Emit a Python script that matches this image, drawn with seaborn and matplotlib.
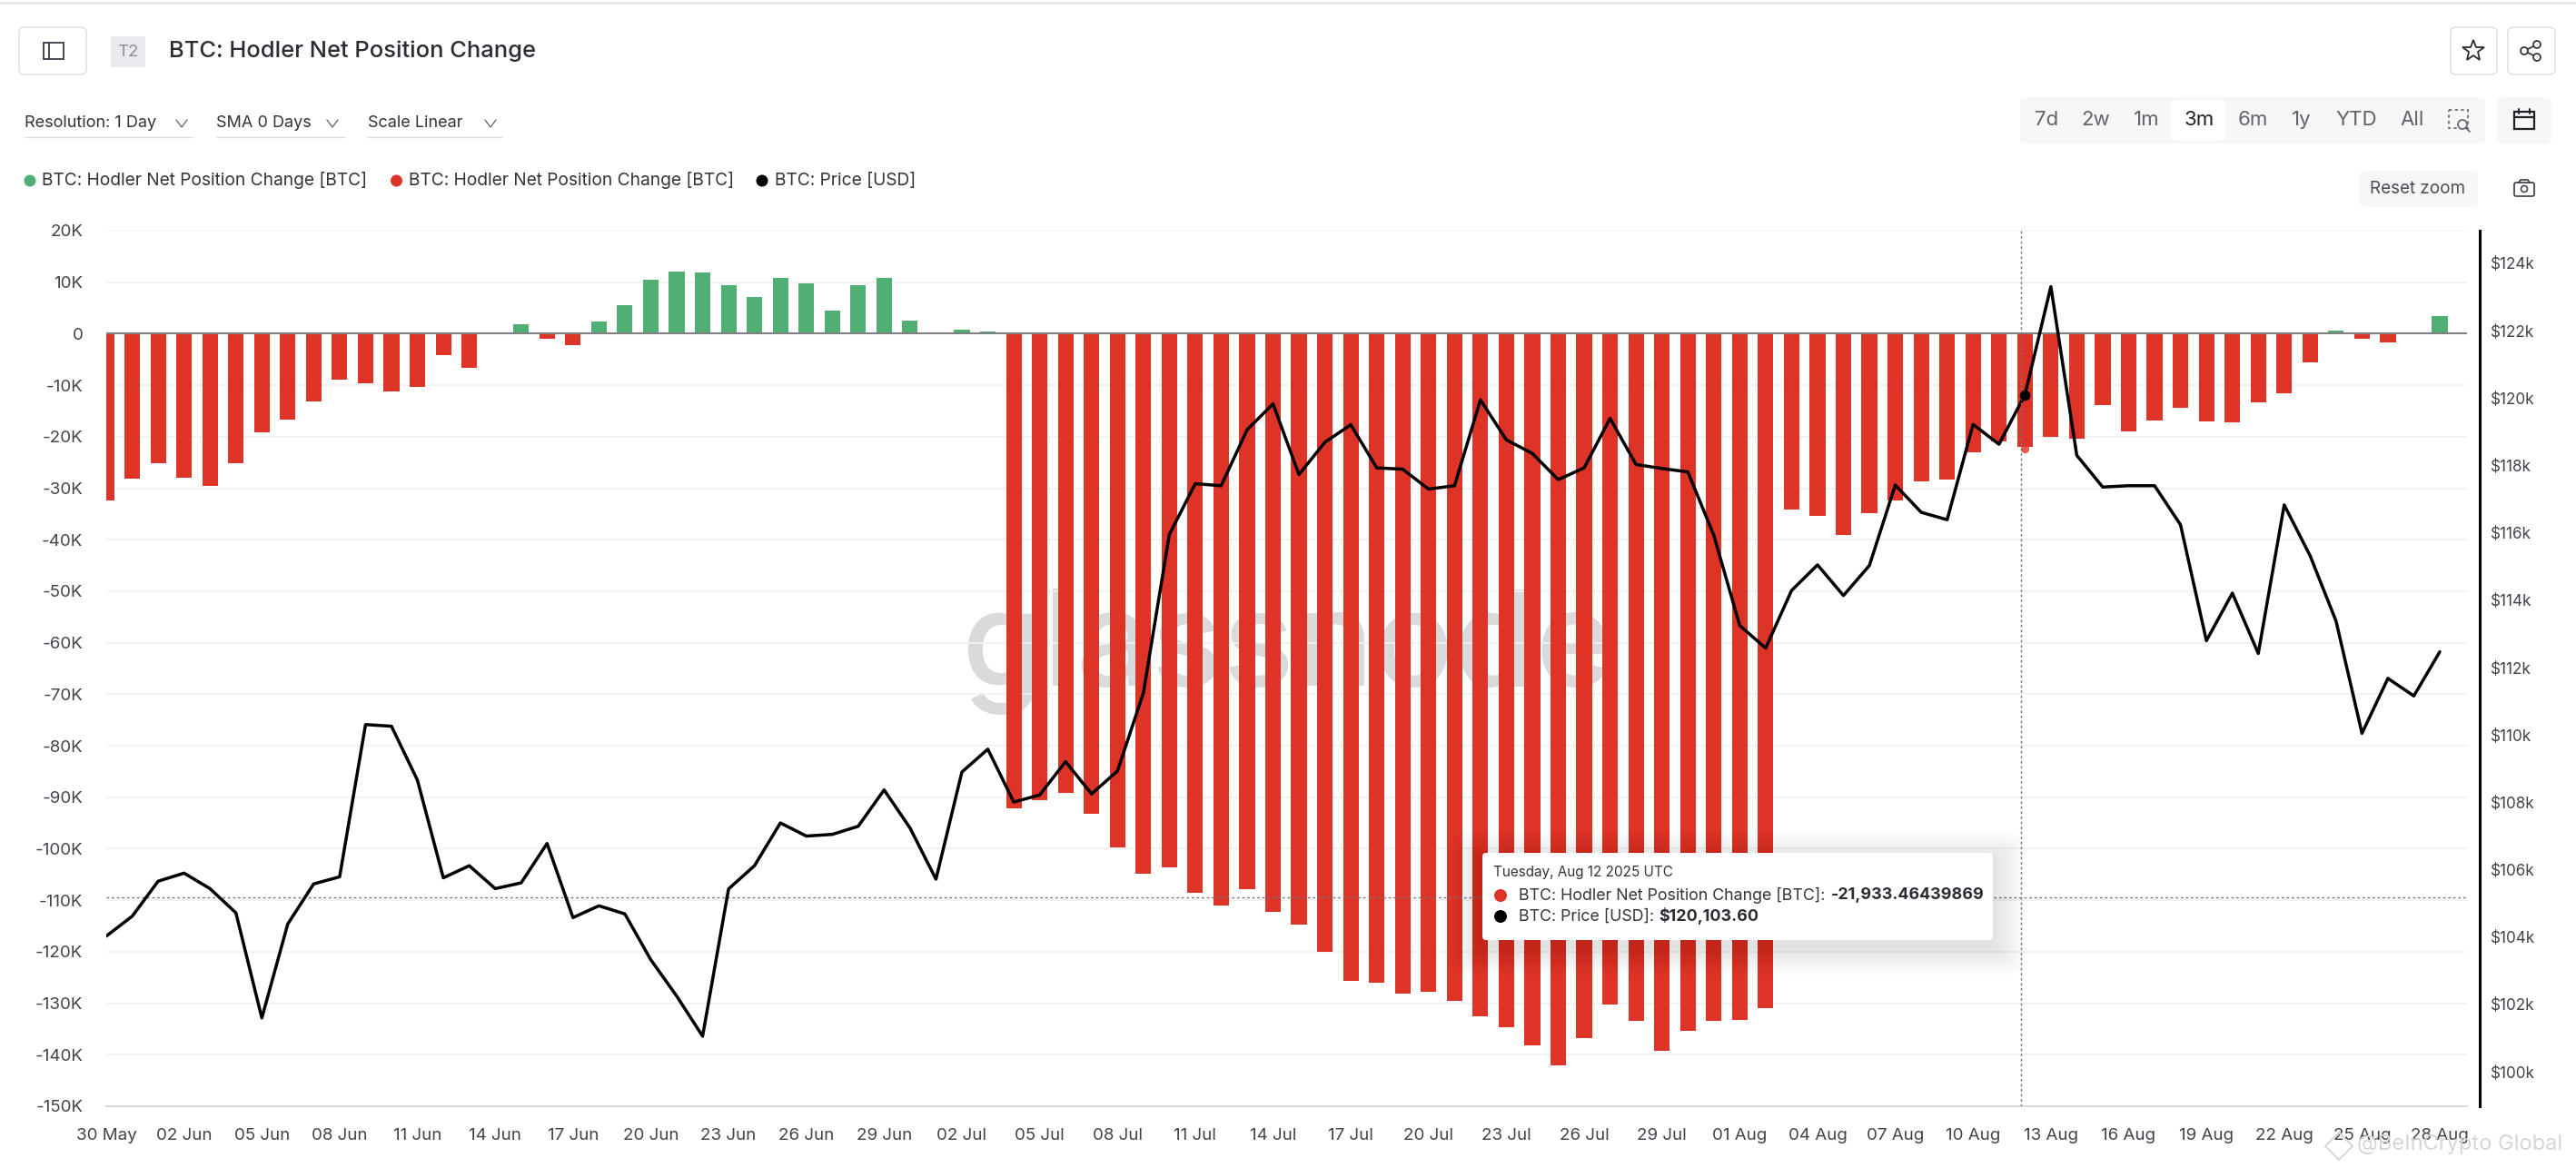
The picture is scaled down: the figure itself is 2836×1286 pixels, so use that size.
import numpy as np
import pandas as pd
import matplotlib
matplotlib.use("Agg")
import matplotlib.pyplot as plt
from matplotlib.patches import FancyBboxPatch, Circle, Rectangle
import seaborn as sns

# ---- data (thousand BTC / thousand USD per day starting 30 May 2025) ----
net_change_k = [
    -32.3, -28.2, -25.2, -27.9, -29.6, -25.2, -19.1, -16.6, -13.2, -9.0,
    -9.7, -11.3, -10.4, -4.1, -6.7, 0.1, 1.8, -0.9, -2.3, 2.3,
    5.6, 10.4, 12.0, 11.8, 9.4, 7.2, 10.8, 9.7, 4.4, 9.4,
    10.8, 2.6, 0.05, 0.7, 0.5, -92.1, -90.6, -89.2, -93.3, -99.8,
    -104.8, -103.7, -108.6, -111.1, -107.9, -112.2, -114.8, -120.1, -125.7, -126.1,
    -128.2, -127.7, -129.5, -132.5, -134.7, -138.1, -142.0, -136.7, -130.3, -133.5,
    -139.2, -135.3, -133.5, -133.2, -131.0, -34.2, -35.3, -39.0, -34.9, -32.3,
    -28.6, -28.3, -23.0, -20.9, -21.93, -20.0, -20.3, -13.9, -18.9, -16.8,
    -14.3, -17.0, -17.2, -13.3, -11.5, -5.6, 0.6, -1.0, -1.7, 0.05,
    3.4,
]
price_k = [
    104.03, 104.62, 105.66, 105.90, 105.44, 104.72, 101.60, 104.39, 105.58, 105.79,
    110.31, 110.26, 108.66, 105.76, 106.12, 105.44, 105.61, 106.78, 104.58, 104.93,
    104.69, 103.33, 102.25, 101.06, 105.43, 106.12, 107.39, 107.00, 107.05, 107.29,
    108.37, 107.24, 105.72, 108.90, 109.58, 108.01, 108.22, 109.21, 108.25, 108.93,
    111.25, 115.95, 117.46, 117.40, 119.06, 119.83, 117.73, 118.69, 119.21, 117.93,
    117.89, 117.30, 117.40, 119.95, 118.76, 118.36, 117.58, 117.93, 119.40, 118.03,
    117.91, 117.81, 115.93, 113.25, 112.58, 114.29, 115.05, 114.14, 115.03, 117.42,
    116.61, 116.39, 119.22, 118.63, 120.10, 123.31, 118.30, 117.36, 117.40, 117.40,
    116.24, 112.80, 114.21, 112.42, 116.83, 115.32, 113.38, 110.05, 111.68, 111.16,
    112.47,
]
x_tick_days = list(range(0, 91, 3))
x_tick_labels = ["30 May", "02 Jun", "05 Jun", "08 Jun", "11 Jun", "14 Jun", "17 Jun", "20 Jun",
                 "23 Jun", "26 Jun", "29 Jun", "02 Jul", "05 Jul", "08 Jul", "11 Jul", "14 Jul",
                 "17 Jul", "20 Jul", "23 Jul", "26 Jul", "29 Jul", "01 Aug", "04 Aug", "07 Aug",
                 "10 Aug", "13 Aug", "16 Aug", "19 Aug", "22 Aug", "25 Aug", "28 Aug"]
left_ticks = list(range(-150, 21, 10))
right_ticks = list(range(100, 125, 2))

RED = "#DE3327"
GREEN = "#50B074"
TXT = "#43434d"
W, H = 2836, 1286

sns.set_theme(style="white")
plt.rcParams["font.family"] = ["Inter", "DejaVu Sans"]

fig = plt.figure(figsize=(W / 100, H / 100), dpi=100, facecolor="white")


def rect_axes(l, t, r, b, **kw):
    return fig.add_axes([l / W, 1 - b / H, (r - l) / W, (b - t) / H], **kw)


# background watermark
bg = fig.add_axes([0, 0, 1, 1], zorder=-1)
bg.set_xlim(0, W); bg.set_ylim(H, 0); bg.axis("off")
bg.text(1417, 755, "glassnode", fontsize=105, color="#dadada", ha="center", va="baseline",
        fontweight="medium")

# main axes
ax = rect_axes(117, 254, 2716, 1218, zorder=1)
ax.patch.set_visible(False)
frame = pd.DataFrame({"day": np.arange(len(net_change_k)), "value": net_change_k})
frame["side"] = np.where(frame["value"] >= 0, "up", "down")
sns.barplot(data=frame, x="day", y="value", hue="side", palette={"up": GREEN, "down": RED},
            native_scale=True, dodge=False, width=0.6, saturation=1, linewidth=0,
            legend=False, ax=ax, zorder=3)
ax.set_xlim(0, 91.05)
ax.set_ylim(-150, 20)
ax.set_xlabel(""); ax.set_ylabel("")
ax.set_yticks(left_ticks)
ax.set_yticklabels([("0" if v == 0 else f"{v}K") for v in left_ticks], fontsize=13.5, color=TXT)
ax.set_xticks(x_tick_days)
ax.set_xticklabels(x_tick_labels, fontsize=13.5, color=TXT)
ax.tick_params(axis="y", length=0, pad=18.5)
ax.tick_params(axis="x", length=11, width=1.1, color="#e6e6e6", pad=6)
ax.grid(axis="y", color="#f1f1f1", lw=1.2, zorder=1)
ax.grid(axis="x", visible=False)
ax.set_axisbelow(True)
for s in ["top", "left", "right"]:
    ax.spines[s].set_visible(False)
ax.spines["bottom"].set_color("#d9d9d9")
ax.spines["bottom"].set_linewidth(1.5)
ax.axhline(0, color="#7f7f7f", lw=1.5, zorder=5)
ax.axhline(-109.4, color="#777777", lw=1, ls=(0, (2, 2)), zorder=6)
ax.scatter([74], [-22.3], s=45, color="#ea5a50", zorder=2.5, linewidths=0)

# price axis
ax2 = ax.twinx()
sns.lineplot(x=np.arange(len(price_k)), y=price_k, ax=ax2, color="black", lw=2.5, errorbar=None)
ax2.set_xlim(0, 91.05)
ax2.set_ylim(98.98, 124.97)
ax2.set_ylabel("")
ax2.set_yticks(right_ticks)
ax2.set_yticklabels([f"${v}k" for v in right_ticks])
ax2.tick_params(axis="y", length=0, pad=9, labelsize=12.3, labelcolor=TXT)
ax2.grid(False)
for s in ["top", "left", "bottom"]:
    ax2.spines[s].set_visible(False)
ax2.spines["right"].set_position(("outward", 10))
ax2.spines["right"].set_color("black")
ax2.spines["right"].set_linewidth(2.2)
ax2.axvline(73.85, color="#777777", lw=1, ls=(0, (2, 2)), zorder=6)
ax2.scatter([74], [120.10], s=70, color="black", zorder=7, linewidths=0)

# interface layer, in pixel coordinates
ui = fig.add_axes([0, 0, 1, 1], zorder=10)
ui.set_xlim(0, W); ui.set_ylim(H, 0); ui.axis("off"); ui.patch.set_visible(False)


def box(x0, y0, x1, y1, fc="white", ec="none", lw=1.0, r=6, alpha=None, z=2):
    p = FancyBboxPatch((x0, y0), x1 - x0, y1 - y0, boxstyle=f"round,pad=0,rounding_size={r}",
                       fc=fc, ec=ec, lw=lw, alpha=alpha, zorder=z)
    ui.add_patch(p)
    return p


def txt(x, y, s, size=13, color=TXT, ha="left", weight="normal", z=5):
    return ui.text(x, y, s, fontsize=size, color=color, ha=ha, va="center", fontweight=weight, zorder=z)


def chevron(x, y, c="#6e6e78"):
    ui.plot([x - 6, x, x + 6], [y - 4, y + 4, y - 4], color=c, lw=1, zorder=5)


ui.add_patch(Rectangle((0, 2), W, 3, fc="#e9e9e9", ec="none"))

# header left
box(21, 30, 95, 82, ec="#dcdcde")
ui.add_patch(Rectangle((48, 47), 22, 18, fc="none", ec="#3a3a44", lw=1.3, zorder=5))
ui.plot([54, 54], [47, 65], color="#3a3a44", lw=1.3, zorder=5)
ui.add_patch(Rectangle((122, 40), 38, 34, fc="#e9e9ee", ec="none"))
txt(141, 57, "T2", size=13.5, color="#8d8d98", ha="center")
txt(186, 56, "BTC: Hodler Net Position Change", size=18.4, color="#2c2c35", weight="medium")

# filter row
for x0, x1, cx, label in [(27, 212, 200, "Resolution: 1 Day"), (238, 379, 366, "SMA 0 Days"),
                          (405, 553, 540, "Scale Linear")]:
    txt(x0, 135, label, size=13, color="#33333c")
    chevron(cx, 136)
    ui.plot([x0, x1], [151, 151], color="#dddddd", lw=1)

# legend row
for cx, tx, col, label in [(33, 46, GREEN, "BTC: Hodler Net Position Change [BTC]"),
                           (436.5, 450, RED, "BTC: Hodler Net Position Change [BTC]"),
                           (839, 853, "black", "BTC: Price [USD]")]:
    ui.add_patch(Circle((cx, 199), 6.5, fc=col, ec="none"))
    txt(tx, 199, label, size=13.8, color="#33333c")

# header right
box(2698, 30, 2749, 82, ec="#dcdcde")
box(2761, 30, 2813, 82, ec="#dcdcde")
ui.plot([2723], [56], marker="*", ms=18, mfc="none", mec="#2b2b33", mew=1.3, zorder=5)
ui.plot([2793, 2779, 2793], [49, 56, 63], color="#2b2b33", lw=1.2, zorder=5)
for px, py in [(2793, 49), (2779, 56), (2793, 63)]:
    ui.add_patch(Circle((px, py), 4, fc="white", ec="#2b2b33", lw=1.2, zorder=6))

box(2224, 107, 2736, 158, fc="#f7f7f8", r=7)
box(2391, 110, 2450, 155, fc="white", r=5, z=3)
for cx, label in [(2253, "7d"), (2307, "2w"), (2363, "1m"), (2421, "3m"), (2480, "6m"),
                  (2534, "1y"), (2594, "YTD"), (2656, "All")]:
    txt(cx, 132, label, size=16, ha="center", color="#1f1f27" if label == "3m" else "#62626c")
ui.add_patch(Rectangle((2696, 121), 21, 20, fc="none", ec="#62626c", lw=1.2, ls=(0, (2, 2)), zorder=5))
ui.add_patch(Circle((2711, 137), 5, fc="#f7f7f8", ec="#62626c", lw=1.2, zorder=6))
ui.plot([2715, 2719], [141, 145], color="#62626c", lw=1.2, zorder=6)

box(2749, 107, 2809, 158, fc="#f7f7f8", r=7)
ui.add_patch(Rectangle((2768, 123), 22, 19, fc="none", ec="#1f1f27", lw=1.6, zorder=5))
ui.plot([2768, 2790], [129, 129], color="#1f1f27", lw=1.6, zorder=5)
ui.plot([2773, 2773], [120, 125], color="#1f1f27", lw=1.4, zorder=5)
ui.plot([2785, 2785], [120, 125], color="#1f1f27", lw=1.4, zorder=5)

box(2597, 188, 2728, 228, fc="#f7f7f8", r=7)
txt(2662, 208, "Reset zoom", size=13.6, ha="center", color="#4d4d57")
box(2768, 201, 2790, 216, fc="none", ec="#3a3a44", lw=1.2, r=2, z=5)
ui.plot([2773, 2775, 2783, 2785], [201, 198, 198, 201], color="#3a3a44", lw=1.2, zorder=5)
ui.add_patch(Circle((2779, 208), 3.5, fc="none", ec="#3a3a44", lw=1.1, zorder=5))

# tooltip
for i in range(1, 15):
    box(1632 - i * 2.6, 939 + 8 - i * 2.2, 2194 + i * 2.6, 1035 + 8 + i * 2.2, fc="black", alpha=0.007, r=6 + i, z=1)
box(1632, 939, 2194, 1035, fc="white", r=4, z=3)
txt(1644, 961, "Tuesday, Aug 12 2025 UTC", size=11, color="#33333c")
ui.add_patch(Circle((1652, 986), 7, fc=RED, ec="none", zorder=5))
txt(1672, 986, "BTC: Hodler Net Position Change [BTC]:", size=12.8, color="#33333c")
txt(2016, 986, "-21,933.46439869", size=12.9, color="#2c2c35", weight="bold")
ui.add_patch(Circle((1652, 1009), 7, fc="black", ec="none", zorder=5))
txt(1672, 1009, "BTC: Price [USD]:", size=12.8, color="#33333c")
txt(1826, 1009, "$120,103.60", size=12.9, color="#2c2c35", weight="bold")

# source watermark
ui.plot([2575], [1262], marker="D", ms=15, mfc="none", mec="#d8d8d8", mew=1.5, zorder=7)
txt(2595, 1260, "@BeInCrypto Global", size=17, color="#d6d6d6", z=7)

fig.savefig("out.png", dpi=100, facecolor="white")
